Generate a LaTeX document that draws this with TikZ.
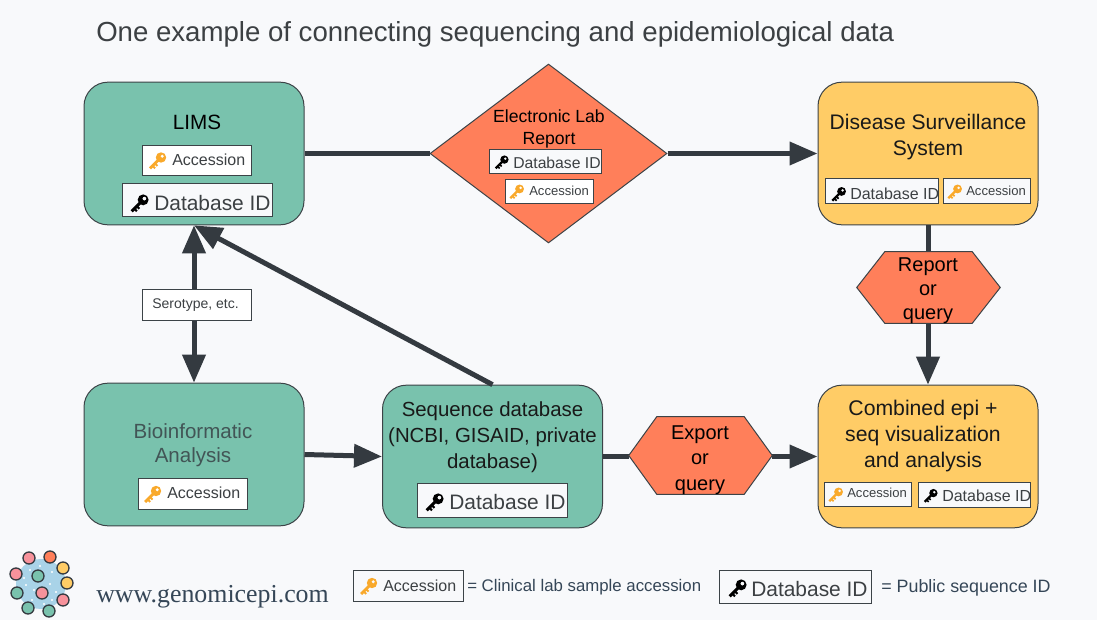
\documentclass[tikz,border=0pt]{standalone}
\usepackage{fontspec}
\setmainfont{Liberation Sans}
\newfontfamily\urlfont{Liberation Serif}
\usetikzlibrary{arrows.meta,fit,shapes.geometric,calc}
\definecolor{bgc}{HTML}{F8F9FB}
\definecolor{greenc}{HTML}{79C2AD}
\definecolor{yellowc}{HTML}{FFCC66}
\definecolor{orangec}{HTML}{FF7F5A}
\definecolor{darkc}{HTML}{343A40}
\definecolor{edgec}{HTML}{3C4347}
\definecolor{txtc}{HTML}{3C4043}
\definecolor{bluetxt}{HTML}{354657}
\definecolor{keyg}{HTML}{F9A92B}
\definecolor{blobc}{HTML}{A9D3E8}
\definecolor{pinkc}{HTML}{F7929B}
\newcommand{\fnt}[2]{\fontsize{#1}{#2}\selectfont}
\tikzset{
  cardbox/.style={draw=edgec,line width=0.75pt,rounded corners=18pt,minimum width=165pt,minimum height=107pt,inner sep=0pt},
  hexslot/.style={inner sep=0pt,minimum width=107.25pt},
  hexline/.style={draw=edgec,line width=0.75pt,fill=orangec},
  dia/.style={draw=edgec,line width=0.75pt,fill=orangec,diamond,shape aspect=1.324,inner sep=0pt,minimum width=177.75pt,minimum height=134.25pt},
  keyframe/.style={draw=edgec,line width=0.75pt,fill=#1,inner sep=0pt},
  conn/.style={draw=darkc,line width=3.75pt},
  tipped/.style={conn,-{Triangle[length=21pt,width=17pt]}},
  both/.style={conn,{Triangle[length=21pt,width=17pt]}-{Triangle[length=21pt,width=17pt]}},
  lbl/.style={inner sep=0pt,anchor=base west,text=txtc},
  cap/.style={inner sep=0pt,align=center,anchor=center,text=#1},
  dot/.style={draw=darkc,line width=1pt,circle,inner sep=0pt,minimum size=9pt,fill=#1}
}
\newcommand{\kbox}[4][white]{%
  \coordinate (#2-a) at (#3);\coordinate (#2-b) at (#4);
  \node[keyframe=#1,fit=(#2-a)(#2-b)] (#2) {};}
\newcommand{\hexa}[1]{%
  \draw[hexline] (#1.west) -- ($(#1.north west)+(28,0)$) -- ($(#1.north east)+(-28,0)$) -- (#1.east) -- ($(#1.south east)+(-28,0)$) -- ($(#1.south west)+(28,0)$) -- cycle;}
\newcommand{\keyicon}[3]{%
  \begin{scope}[shift={(#1)},scale=#2]
    \fill[#3,even odd rule] (3,-3) circle (5.2) (4.2,-4.2) circle (1.9);
    \fill[#3] (-8.9,6.9)--(0,-2)--(2,0)--(-6.9,8.9)--cycle;
    \fill[#3] (-5.6,6.6)--(-3.6,8.6)--(-2.2,7.2)--(-4.2,5.2)--cycle;
    \fill[#3] (-3.2,4.2)--(-1.2,6.2)--(0.2,4.8)--(-1.8,2.8)--cycle;
  \end{scope}}
\begin{document}
\begin{tikzpicture}[x=0.75pt,y=-0.75pt]
\useasboundingbox (0,0) rectangle (1097,620);
\fill[bgc] (0,0) rectangle (1097,620);

\node[lbl,text=txtc,font=\fnt{20.7}{24}] (title) at (96,42) {One example of connecting sequencing and epidemiological data};

% main shapes
\node[cardbox,fill=greenc] (lims) at (194,153.5) {};
\node[cardbox,fill=greenc] (bio) at (194,454.5) {};
\node[cardbox,fill=greenc] (seq) at (492.5,456.5) {};
\node[cardbox,fill=yellowc] (dis) at (928,153.5) {};
\node[cardbox,fill=yellowc] (comb) at (928,456.5) {};
\node[dia] (elr) at (548.5,153.5) {};
\node[hexslot,minimum height=53.25pt] (hexr) at (928.5,287.5) {};
\node[hexslot,minimum height=57.75pt] (hexe) at (700.5,455.5) {};

% connectors
\draw[conn] (lims.east) -- (elr.west);
\draw[tipped] (elr.east) -- (dis.west);
\draw[conn] (dis.south) -- (hexr.north -| dis.south);
\draw[tipped] (hexr.south -| comb.north) -- (comb.north);
\draw[both] (lims.south) -- (bio.north);
\draw[tipped] (seq.north) -- (lims.south);
\draw[tipped] (bio.east) -- (seq.west);
\draw[conn] (seq.east) -- (hexe.west |- seq.east);
\draw[tipped] (hexe.east |- comb.west) -- (comb.west);
\hexa{hexr}
\hexa{hexe}

% captions
\node[cap=black,font=\fnt{15.5}{19.5}] (limst) at (197,122) {LIMS};
\node[cap=black,font=\fnt{13.2}{16.5}] (elrt) at (549,129) {Electronic Lab\\Report};
\node[cap=black!90,font=\fnt{15.8}{19.5}] (dist) at (928,137) {Disease Surveillance\\System};
\node[cap=black,font=\fnt{15}{18}] (hexrt) at (928,291) {Report\\or\\query};
\node[cap=black,font=\fnt{15}{19}] (hexet) at (700,460) {Export\\or\\query};
\node[cap=darkc!80!greenc,font=\fnt{15.4}{18}] (biot) at (193,445) {Bioinformatic\\Analysis};
\node[cap=black!90,font=\fnt{15.3}{19.5}] (seqt) at (492.5,437) {Sequence database\\(NCBI, GISAID, private\\database)};
\node[cap=black!90,font=\fnt{15.9}{19.5}] (combt) at (923,436) {Combined epi +\\seq visualization\\and analysis};

% key boxes: LIMS
\kbox{la}{142.5,145.5}{251.5,176}
\keyicon{158,160.5}{1}{keyg}
\node[lbl] (lat) at (172,165.5) {\fnt{12}{14}Accession};
\kbox[bgc]{ld}{122,184}{272.5,217}
\keyicon{140,203}{1.05}{black}
\node[lbl] (ldt) at (154,210.5) {\fnt{15.7}{18}Database ID};
% diamond
\kbox[bgc]{ed}{489,150}{601,174}
\keyicon{502,162}{.8}{black}
\node[lbl] (edt) at (513,168.5) {\fnt{11.8}{14}Database ID};
\kbox{ea}{505,180}{593,204}
\keyicon{517,191.5}{.85}{keyg}
\node[lbl] (eat) at (529,195.5) {\fnt{9.8}{12}Accession};
% disease
\kbox[bgc]{dd}{825.5,179}{938,204}
\keyicon{839,194}{.85}{black}
\node[lbl] (ddt) at (850,200) {\fnt{12}{14}Database ID};
\kbox[bgc]{da}{943,179}{1030,204}
\keyicon{955,191.5}{.85}{keyg}
\node[lbl] (dat) at (966,195.5) {\fnt{9.8}{12}Accession};
% bioinformatic
\kbox{ba}{138,479}{247,509.5}
\keyicon{153,494}{1}{keyg}
\node[lbl] (bat) at (167,498.5) {\fnt{12}{14}Accession};
% sequence db
\kbox[bgc]{sd}{417,484}{567.5,517}
\keyicon{435,502}{1.05}{black}
\node[lbl] (sdt) at (449,509.5) {\fnt{15.7}{18}Database ID};
% combined
\kbox[bgc]{ca}{824,483}{911,506.5}
\keyicon{836,494.5}{.85}{keyg}
\node[lbl] (cat) at (847,498) {\fnt{9.8}{12}Accession};
\kbox[bgc]{cd}{918,483}{1030,507}
\keyicon{931,495.5}{.8}{black}
\node[lbl] (cdt) at (942,501.5) {\fnt{12}{14}Database ID};
% serotype
\kbox{ser}{142.5,290}{251.5,321}
\node[cap=txtc] (sert) at (195.5,305.5) {\fnt{10.5}{12}Serotype, etc.};

% legend
\kbox[bgc]{ga}{353.5,570}{463,601}
\keyicon{369,586}{1}{keyg}
\node[lbl] (gat) at (383,591) {\fnt{12}{14}Accession};
\node[lbl,text=bluetxt] (gam) at (467,591) {\fnt{12.6}{14}= Clinical lab sample accession};
\kbox[bgc]{gd}{719.5,570}{871,603}
\keyicon{738,588}{1.05}{black}
\node[lbl] (gdt) at (751,596) {\fnt{15.7}{18}Database ID};
\node[lbl,text=bluetxt] (gdm) at (881,592) {\fnt{13.4}{14}= Public sequence ID};

% logo
\fill[blobc] (41,584) circle (25);
\foreach \px/\py in {30/570,40/566,52/572,26/585,34/590,50/584,56/592,32/600,44/604,52/600,24/578}{
  \fill[white] (\px,\py) circle (1.1);}
\node[dot=pinkc] (l1) at (29,558) {};
\node[dot=orangec] (l2) at (50,557) {};
\node[dot=yellowc] (l3) at (63,568) {};
\node[dot=yellowc] (l4) at (67,583) {};
\node[dot=pinkc] (l5) at (16,574) {};
\node[dot=greenc] (l6) at (38,576) {};
\node[dot=greenc] (l7) at (17,593) {};
\node[dot=pinkc] (l8) at (42,593) {};
\node[dot=pinkc] (l9) at (63,600) {};
\node[dot=greenc] (l10) at (28,608) {};
\node[dot=greenc] (l11) at (49,611) {};
\node[lbl,text=bluetxt] (url) at (96,602) {\urlfont\fnt{19.4}{22}www.genomicepi.com};
\end{tikzpicture}
\end{document}
